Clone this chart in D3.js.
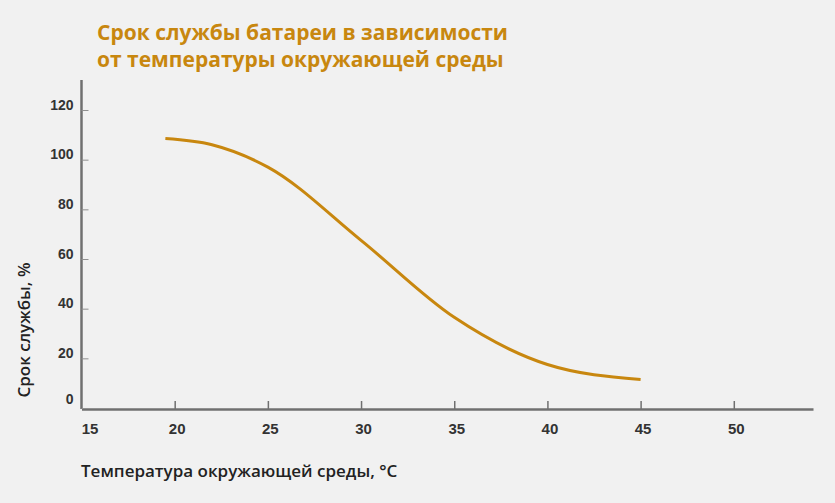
<!DOCTYPE html><html><head><meta charset="utf-8">
<script src="https://cdn.jsdelivr.net/npm/d3@7"></script>
<style>body{margin:0;background:#f1f1f1}svg{display:block;font-family:"Open Sans",sans-serif}</style></head><body>
<script>
const temps=[19.5,22,25,30,35,40,45];
const life=[108.5,106,97,67.5,36.5,17.5,11.5];
const xTicks=[15,20,25,30,35,40,45,50];
const yTicks=[0,20,40,60,80,100,120];
const W=835,H=503;
const svg=d3.select("body").append("svg").attr("width",W).attr("height",H);
svg.append("rect").attr("width",W).attr("height",H).attr("fill","#f1f1f1");
const x=d3.scaleLinear().domain([15,54.25]).range([81.5,813]);
const y=d3.scaleLinear().domain([0,120]).range([408,110]);
const ax=svg.append("g").attr("transform","translate(0,409)")
 .call(d3.axisBottom(x).tickValues(xTicks).tickSize(0).tickPadding(14).tickFormat(d3.format("d")));
ax.select(".domain").attr("stroke","#707070").attr("stroke-width",2.5);
ax.selectAll(".tick").filter(d=>d!==15).append("line").attr("y1",0).attr("y2",-8).attr("stroke","#707070").attr("stroke-width",1.5);
ax.selectAll("text").attr("font-size",15).attr("font-weight",700).attr("fill","#333").attr("dx",d=>d===15?8:2);
const ay=svg.append("g").attr("transform","translate(81.5,0)")
 .call(d3.axisLeft(y).tickValues(yTicks).tickSize(0).tickPadding(8));
ay.select(".domain").attr("stroke","#707070").attr("stroke-width",2.5).attr("d","M0,409V80");
ay.selectAll(".tick").append("line").attr("x1",0).attr("x2",7).attr("stroke","#909090").attr("stroke-width",1);
ay.selectAll("text").attr("font-size",14).attr("font-weight",700).attr("fill","#333").attr("dy","-0.05em");
ay.selectAll(".tick").filter(d=>d===0).select("text").attr("dy","-0.3em");
svg.append("path").datum(temps.map((t,i)=>[t,life[i]]))
 .attr("d",d3.line().x(d=>x(d[0])).y(d=>y(d[1])).curve(d3.curveMonotoneX))
 .attr("fill","none").attr("stroke","#c8870f").attr("stroke-width",3);
svg.append("text").attr("x",97).attr("y",40).attr("font-size",21).attr("font-weight",700).attr("fill","#c8870f").text("Срок службы батареи в зависимости");
svg.append("text").attr("x",97).attr("y",67).attr("font-size",21).attr("font-weight",700).attr("fill","#c8870f").text("от температуры окружающей среды");
svg.append("text").attr("x",81).attr("y",477).attr("font-size",17).attr("font-weight",600).attr("fill","#222").text("Температура окружающей среды, °C");
svg.append("text").attr("transform","translate(30,330) rotate(-90)").attr("text-anchor","middle").attr("font-size",17).attr("font-weight",600).attr("fill","#222").text("Срок службы, %");
</script></body></html>
